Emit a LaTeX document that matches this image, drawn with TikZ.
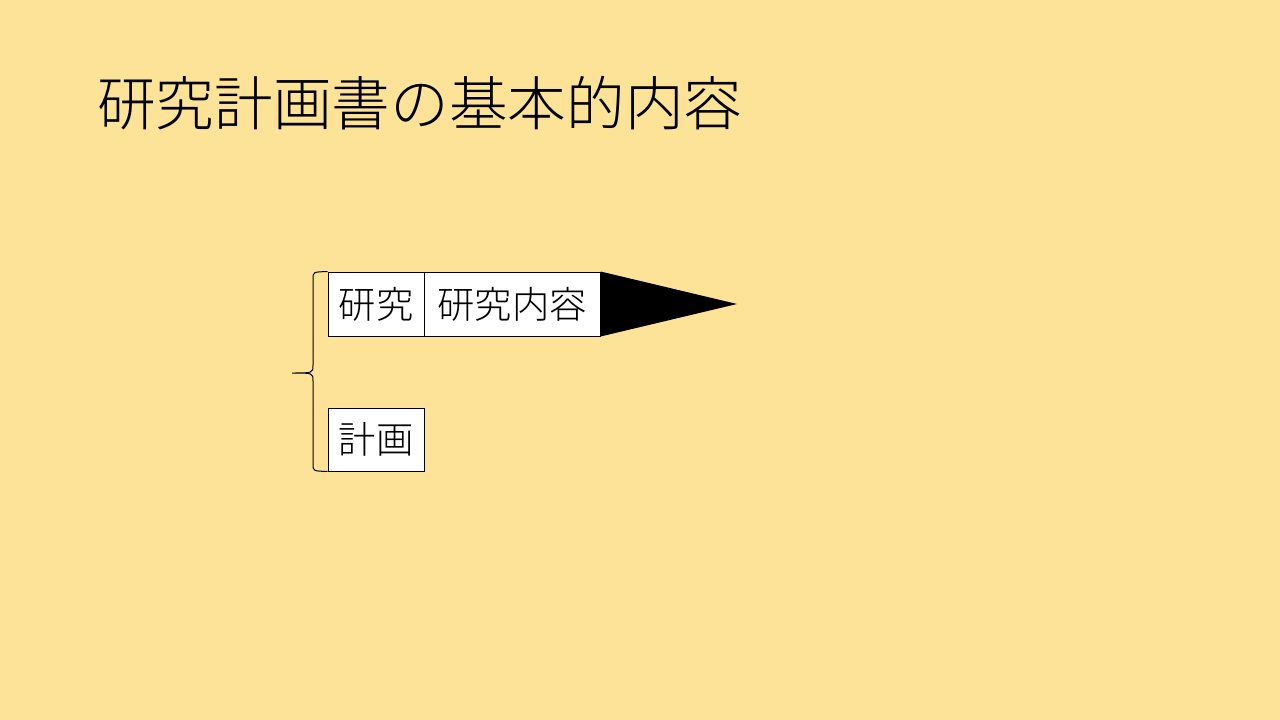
\documentclass[tikz,border=0pt]{standalone}
\usepackage{fontspec}
\setmainfont{Noto Sans CJK JP}[UprightFont={* Light}]
\definecolor{bgc}{HTML}{FDE398}
\tikzset{
  box/.style={draw=black, line width=0.75pt, fill=white, inner sep=0pt, minimum height=48pt, font=\fontsize{28pt}{32pt}\selectfont},
  brace/.style={draw=black, line width=0.75pt}
}
\begin{document}
\begin{tikzpicture}[x=0.75pt,y=-0.75pt]
\fill[bgc] (0,0) rectangle (1280,720);
\useasboundingbox (0,0) rectangle (1280,720);
\node[anchor=west, inner sep=0pt, font=\fontsize{44pt}{50pt}\selectfont] (title) at (97,103) {研究計画書の基本的内容};
\node[box, minimum width=72pt] (b1) at (376,304) {研究};
\node[box, minimum width=132pt] (b2) at (512,304) {研究内容};
\node[box, minimum width=72pt, minimum height=47.25pt] (b3) at (376,439.5) {計画};
\coordinate (tip) at (737,304);
\fill[black] (b2.north east) -- (tip) -- (b2.south east) -- cycle;
\coordinate (bt) at (292,373);
\draw[brace] (b1.north west) .. controls (313,272) .. (313,279) -- (313,365) .. controls (313,373) .. (bt)
  (bt) .. controls (313,373) .. (313,381) -- (313,464) .. controls (313,471) .. (b3.south west);
\end{tikzpicture}
\end{document}
